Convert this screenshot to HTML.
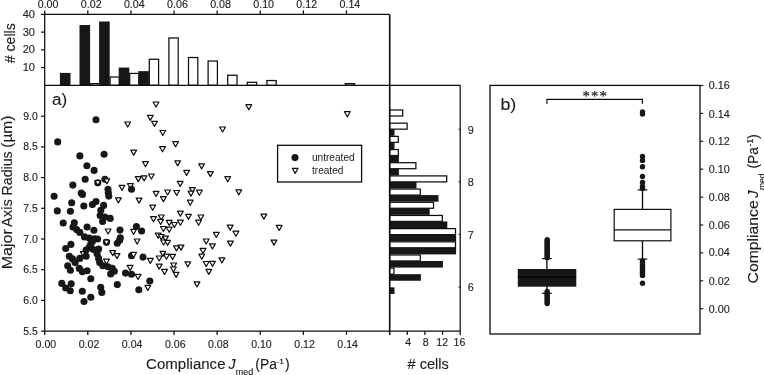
<!DOCTYPE html>
<html lang="en"><head><meta charset="utf-8"><title>Compliance vs major axis radius</title>
<style>html,body{margin:0;padding:0;background:#fff}svg{display:block}text{font-family:"Liberation Sans", sans-serif;fill:#1c1c1c;stroke:#1c1c1c;stroke-width:0.12px}</style></head><body>
<svg width="764" height="375" viewBox="0 0 764 375">
<rect width="764" height="375" fill="#fff"/>
<rect x="90.50" y="83.63" width="9.30" height="1.67" fill="#fff" stroke="#0d0d0d" stroke-width="1.25"/>
<rect x="110.10" y="76.99" width="9.30" height="8.31" fill="#fff" stroke="#0d0d0d" stroke-width="1.25"/>
<rect x="129.70" y="73.44" width="9.30" height="11.86" fill="#fff" stroke="#0d0d0d" stroke-width="1.25"/>
<rect x="149.30" y="59.26" width="9.30" height="26.04" fill="#fff" stroke="#0d0d0d" stroke-width="1.25"/>
<rect x="168.90" y="37.99" width="9.30" height="47.31" fill="#fff" stroke="#0d0d0d" stroke-width="1.25"/>
<rect x="188.50" y="57.49" width="9.30" height="27.81" fill="#fff" stroke="#0d0d0d" stroke-width="1.25"/>
<rect x="208.10" y="61.03" width="9.30" height="24.26" fill="#fff" stroke="#0d0d0d" stroke-width="1.25"/>
<rect x="227.70" y="75.21" width="9.30" height="10.08" fill="#fff" stroke="#0d0d0d" stroke-width="1.25"/>
<rect x="247.30" y="82.30" width="9.30" height="2.99" fill="#fff" stroke="#0d0d0d" stroke-width="1.25"/>
<rect x="266.90" y="80.53" width="9.30" height="4.77" fill="#fff" stroke="#0d0d0d" stroke-width="1.25"/>
<rect x="345.30" y="83.63" width="9.30" height="1.67" fill="#fff" stroke="#0d0d0d" stroke-width="1.25"/>
<rect x="59.90" y="72.89" width="10.60" height="12.41" fill="#171717"/>
<rect x="79.50" y="25.04" width="10.60" height="60.26" fill="#171717"/>
<rect x="99.10" y="21.49" width="10.60" height="63.81" fill="#171717"/>
<rect x="118.70" y="67.58" width="10.60" height="17.72" fill="#171717"/>
<rect x="138.30" y="71.12" width="10.60" height="14.18" fill="#171717"/>
<rect x="389.60" y="110.00" width="13.10" height="6.00" fill="#fff" stroke="#0d0d0d" stroke-width="1.25"/>
<rect x="389.60" y="123.18" width="17.50" height="6.00" fill="#fff" stroke="#0d0d0d" stroke-width="1.25"/>
<rect x="389.60" y="136.36" width="8.70" height="6.00" fill="#fff" stroke="#0d0d0d" stroke-width="1.25"/>
<rect x="389.60" y="149.54" width="8.70" height="6.00" fill="#fff" stroke="#0d0d0d" stroke-width="1.25"/>
<rect x="389.60" y="162.72" width="26.30" height="6.00" fill="#fff" stroke="#0d0d0d" stroke-width="1.25"/>
<rect x="389.60" y="175.90" width="57.10" height="6.00" fill="#fff" stroke="#0d0d0d" stroke-width="1.25"/>
<rect x="389.60" y="189.08" width="30.70" height="6.00" fill="#fff" stroke="#0d0d0d" stroke-width="1.25"/>
<rect x="389.60" y="202.26" width="43.90" height="6.00" fill="#fff" stroke="#0d0d0d" stroke-width="1.25"/>
<rect x="389.60" y="215.44" width="52.70" height="6.00" fill="#fff" stroke="#0d0d0d" stroke-width="1.25"/>
<rect x="389.60" y="228.62" width="65.90" height="6.00" fill="#fff" stroke="#0d0d0d" stroke-width="1.25"/>
<rect x="389.60" y="241.80" width="65.90" height="6.00" fill="#fff" stroke="#0d0d0d" stroke-width="1.25"/>
<rect x="389.60" y="254.98" width="30.70" height="6.00" fill="#fff" stroke="#0d0d0d" stroke-width="1.25"/>
<rect x="389.60" y="268.16" width="4.30" height="6.00" fill="#fff" stroke="#0d0d0d" stroke-width="1.25"/>
<rect x="389.60" y="129.18" width="4.90" height="6.60" fill="#171717"/>
<rect x="389.60" y="142.36" width="4.90" height="6.60" fill="#171717"/>
<rect x="389.60" y="155.54" width="9.30" height="6.60" fill="#171717"/>
<rect x="389.60" y="168.72" width="9.30" height="6.60" fill="#171717"/>
<rect x="389.60" y="181.90" width="26.90" height="6.60" fill="#171717"/>
<rect x="389.60" y="195.08" width="48.90" height="6.60" fill="#171717"/>
<rect x="389.60" y="208.26" width="40.10" height="6.60" fill="#171717"/>
<rect x="389.60" y="221.44" width="57.70" height="6.60" fill="#171717"/>
<rect x="389.60" y="234.62" width="66.50" height="6.60" fill="#171717"/>
<rect x="389.60" y="247.80" width="66.50" height="6.60" fill="#171717"/>
<rect x="389.60" y="260.98" width="53.30" height="6.60" fill="#171717"/>
<rect x="389.60" y="274.16" width="31.30" height="6.60" fill="#171717"/>
<rect x="389.60" y="287.34" width="4.90" height="6.60" fill="#171717"/>
<line x1="41.10" y1="14.40" x2="389.60" y2="14.40" stroke="#0d0d0d" stroke-width="1.25"/>
<line x1="44.70" y1="10.40" x2="44.70" y2="335.00" stroke="#0d0d0d" stroke-width="1.25"/>
<line x1="44.70" y1="85.30" x2="460.20" y2="85.30" stroke="#0d0d0d" stroke-width="1.25"/>
<line x1="389.70" y1="14.40" x2="389.70" y2="335.00" stroke="#0d0d0d" stroke-width="1.60"/>
<line x1="41.10" y1="331.00" x2="460.20" y2="331.00" stroke="#0d0d0d" stroke-width="1.25"/>
<line x1="460.20" y1="85.30" x2="460.20" y2="335.00" stroke="#0d0d0d" stroke-width="1.25"/>
<text x="48.10" y="7.60" font-size="10.00" text-anchor="middle" textLength="20.8" lengthAdjust="spacingAndGlyphs">0.00</text>
<text x="45.90" y="347.80" font-size="10.00" text-anchor="middle" textLength="20.6" lengthAdjust="spacingAndGlyphs">0.00</text>
<line x1="87.81" y1="10.40" x2="87.81" y2="14.40" stroke="#0d0d0d" stroke-width="1.25"/>
<line x1="87.81" y1="331.00" x2="87.81" y2="335.00" stroke="#0d0d0d" stroke-width="1.25"/>
<text x="91.21" y="7.60" font-size="10.00" text-anchor="middle" textLength="20.8" lengthAdjust="spacingAndGlyphs">0.02</text>
<text x="89.01" y="347.80" font-size="10.00" text-anchor="middle" textLength="20.6" lengthAdjust="spacingAndGlyphs">0.02</text>
<line x1="130.93" y1="10.40" x2="130.93" y2="14.40" stroke="#0d0d0d" stroke-width="1.25"/>
<line x1="130.93" y1="331.00" x2="130.93" y2="335.00" stroke="#0d0d0d" stroke-width="1.25"/>
<text x="134.33" y="7.60" font-size="10.00" text-anchor="middle" textLength="20.8" lengthAdjust="spacingAndGlyphs">0.04</text>
<text x="132.12" y="347.80" font-size="10.00" text-anchor="middle" textLength="20.6" lengthAdjust="spacingAndGlyphs">0.04</text>
<line x1="174.04" y1="10.40" x2="174.04" y2="14.40" stroke="#0d0d0d" stroke-width="1.25"/>
<line x1="174.04" y1="331.00" x2="174.04" y2="335.00" stroke="#0d0d0d" stroke-width="1.25"/>
<text x="177.44" y="7.60" font-size="10.00" text-anchor="middle" textLength="20.8" lengthAdjust="spacingAndGlyphs">0.06</text>
<text x="175.24" y="347.80" font-size="10.00" text-anchor="middle" textLength="20.6" lengthAdjust="spacingAndGlyphs">0.06</text>
<line x1="217.15" y1="10.40" x2="217.15" y2="14.40" stroke="#0d0d0d" stroke-width="1.25"/>
<line x1="217.15" y1="331.00" x2="217.15" y2="335.00" stroke="#0d0d0d" stroke-width="1.25"/>
<text x="220.55" y="7.60" font-size="10.00" text-anchor="middle" textLength="20.8" lengthAdjust="spacingAndGlyphs">0.08</text>
<text x="218.35" y="347.80" font-size="10.00" text-anchor="middle" textLength="20.6" lengthAdjust="spacingAndGlyphs">0.08</text>
<line x1="260.26" y1="10.40" x2="260.26" y2="14.40" stroke="#0d0d0d" stroke-width="1.25"/>
<line x1="260.26" y1="331.00" x2="260.26" y2="335.00" stroke="#0d0d0d" stroke-width="1.25"/>
<text x="263.66" y="7.60" font-size="10.00" text-anchor="middle" textLength="20.8" lengthAdjust="spacingAndGlyphs">0.10</text>
<text x="261.46" y="347.80" font-size="10.00" text-anchor="middle" textLength="20.6" lengthAdjust="spacingAndGlyphs">0.10</text>
<line x1="303.38" y1="10.40" x2="303.38" y2="14.40" stroke="#0d0d0d" stroke-width="1.25"/>
<line x1="303.38" y1="331.00" x2="303.38" y2="335.00" stroke="#0d0d0d" stroke-width="1.25"/>
<text x="306.77" y="7.60" font-size="10.00" text-anchor="middle" textLength="20.8" lengthAdjust="spacingAndGlyphs">0.12</text>
<text x="304.57" y="347.80" font-size="10.00" text-anchor="middle" textLength="20.6" lengthAdjust="spacingAndGlyphs">0.12</text>
<line x1="346.49" y1="10.40" x2="346.49" y2="14.40" stroke="#0d0d0d" stroke-width="1.25"/>
<line x1="346.49" y1="331.00" x2="346.49" y2="335.00" stroke="#0d0d0d" stroke-width="1.25"/>
<text x="349.89" y="7.60" font-size="10.00" text-anchor="middle" textLength="20.8" lengthAdjust="spacingAndGlyphs">0.14</text>
<text x="347.69" y="347.80" font-size="10.00" text-anchor="middle" textLength="20.6" lengthAdjust="spacingAndGlyphs">0.14</text>
<text x="35.00" y="17.90" font-size="10.00" text-anchor="end" textLength="12.3" lengthAdjust="spacingAndGlyphs">40</text>
<line x1="41.10" y1="32.12" x2="44.70" y2="32.12" stroke="#0d0d0d" stroke-width="1.25"/>
<text x="35.00" y="35.62" font-size="10.00" text-anchor="end" textLength="12.3" lengthAdjust="spacingAndGlyphs">30</text>
<line x1="41.10" y1="49.85" x2="44.70" y2="49.85" stroke="#0d0d0d" stroke-width="1.25"/>
<text x="35.00" y="53.35" font-size="10.00" text-anchor="end" textLength="12.3" lengthAdjust="spacingAndGlyphs">20</text>
<line x1="41.10" y1="67.58" x2="44.70" y2="67.58" stroke="#0d0d0d" stroke-width="1.25"/>
<text x="35.00" y="71.08" font-size="10.00" text-anchor="end" textLength="12.3" lengthAdjust="spacingAndGlyphs">10</text>
<line x1="41.10" y1="116.20" x2="44.70" y2="116.20" stroke="#0d0d0d" stroke-width="1.25"/>
<text x="37.80" y="119.70" font-size="10.00" text-anchor="end" textLength="14.5" lengthAdjust="spacingAndGlyphs">9.0</text>
<line x1="41.10" y1="146.90" x2="44.70" y2="146.90" stroke="#0d0d0d" stroke-width="1.25"/>
<text x="37.80" y="150.40" font-size="10.00" text-anchor="end" textLength="14.5" lengthAdjust="spacingAndGlyphs">8.5</text>
<line x1="41.10" y1="177.60" x2="44.70" y2="177.60" stroke="#0d0d0d" stroke-width="1.25"/>
<text x="37.80" y="181.10" font-size="10.00" text-anchor="end" textLength="14.5" lengthAdjust="spacingAndGlyphs">8.0</text>
<line x1="41.10" y1="208.30" x2="44.70" y2="208.30" stroke="#0d0d0d" stroke-width="1.25"/>
<text x="37.80" y="211.80" font-size="10.00" text-anchor="end" textLength="14.5" lengthAdjust="spacingAndGlyphs">7.5</text>
<line x1="41.10" y1="239.00" x2="44.70" y2="239.00" stroke="#0d0d0d" stroke-width="1.25"/>
<text x="37.80" y="242.50" font-size="10.00" text-anchor="end" textLength="14.5" lengthAdjust="spacingAndGlyphs">7.0</text>
<line x1="41.10" y1="269.70" x2="44.70" y2="269.70" stroke="#0d0d0d" stroke-width="1.25"/>
<text x="37.80" y="273.20" font-size="10.00" text-anchor="end" textLength="14.5" lengthAdjust="spacingAndGlyphs">6.5</text>
<line x1="41.10" y1="300.40" x2="44.70" y2="300.40" stroke="#0d0d0d" stroke-width="1.25"/>
<text x="37.80" y="303.90" font-size="10.00" text-anchor="end" textLength="14.5" lengthAdjust="spacingAndGlyphs">6.0</text>
<text x="37.80" y="334.60" font-size="10.00" text-anchor="end" textLength="14.5" lengthAdjust="spacingAndGlyphs">5.5</text>
<line x1="407.25" y1="331.00" x2="407.25" y2="335.00" stroke="#0d0d0d" stroke-width="1.25"/>
<text x="408.10" y="346.10" font-size="10.00" text-anchor="middle" textLength="5.9" lengthAdjust="spacingAndGlyphs">4</text>
<line x1="424.90" y1="331.00" x2="424.90" y2="335.00" stroke="#0d0d0d" stroke-width="1.25"/>
<text x="425.70" y="346.10" font-size="10.00" text-anchor="middle" textLength="5.9" lengthAdjust="spacingAndGlyphs">8</text>
<line x1="442.55" y1="331.00" x2="442.55" y2="335.00" stroke="#0d0d0d" stroke-width="1.25"/>
<text x="442.20" y="346.10" font-size="10.00" text-anchor="middle" textLength="11.7" lengthAdjust="spacingAndGlyphs">12</text>
<text x="459.40" y="346.10" font-size="10.00" text-anchor="middle" textLength="11.7" lengthAdjust="spacingAndGlyphs">16</text>
<line x1="458.60" y1="129.20" x2="460.20" y2="129.20" stroke="#0d0d0d" stroke-width="1.00"/>
<text x="467.70" y="133.80" font-size="10.00" text-anchor="start" textLength="6.0" lengthAdjust="spacingAndGlyphs">9</text>
<line x1="458.60" y1="181.80" x2="460.20" y2="181.80" stroke="#0d0d0d" stroke-width="1.00"/>
<text x="467.70" y="186.10" font-size="10.00" text-anchor="start" textLength="6.0" lengthAdjust="spacingAndGlyphs">8</text>
<line x1="458.60" y1="234.40" x2="460.20" y2="234.40" stroke="#0d0d0d" stroke-width="1.00"/>
<text x="467.70" y="238.60" font-size="10.00" text-anchor="start" textLength="6.0" lengthAdjust="spacingAndGlyphs">7</text>
<line x1="458.60" y1="287.00" x2="460.20" y2="287.00" stroke="#0d0d0d" stroke-width="1.00"/>
<text x="467.70" y="291.40" font-size="10.00" text-anchor="start" textLength="6.0" lengthAdjust="spacingAndGlyphs">6</text>
<circle cx="96.0" cy="119.7" r="3.55" fill="#171717"/>
<circle cx="57.7" cy="141.9" r="3.55" fill="#171717"/>
<circle cx="79.9" cy="155.9" r="3.55" fill="#171717"/>
<circle cx="104.1" cy="154.2" r="3.55" fill="#171717"/>
<circle cx="86.9" cy="165.8" r="3.55" fill="#171717"/>
<circle cx="94.1" cy="170.4" r="3.55" fill="#171717"/>
<circle cx="85.2" cy="179.2" r="3.55" fill="#171717"/>
<circle cx="72.8" cy="185.1" r="3.55" fill="#171717"/>
<circle cx="97.8" cy="182.7" r="3.55" fill="#171717"/>
<circle cx="104.9" cy="179.3" r="3.55" fill="#171717"/>
<circle cx="81.2" cy="193.0" r="3.55" fill="#171717"/>
<circle cx="82.5" cy="194.4" r="3.55" fill="#171717"/>
<circle cx="54.1" cy="196.3" r="3.55" fill="#171717"/>
<circle cx="108.0" cy="189.3" r="3.55" fill="#171717"/>
<circle cx="108.3" cy="192.7" r="3.55" fill="#171717"/>
<circle cx="108.8" cy="196.1" r="3.55" fill="#171717"/>
<circle cx="71.7" cy="202.7" r="3.55" fill="#171717"/>
<circle cx="83.8" cy="206.0" r="3.55" fill="#171717"/>
<circle cx="96.0" cy="201.5" r="3.55" fill="#171717"/>
<circle cx="92.4" cy="204.5" r="3.55" fill="#171717"/>
<circle cx="103.6" cy="205.4" r="3.55" fill="#171717"/>
<circle cx="100.8" cy="210.3" r="3.55" fill="#171717"/>
<circle cx="57.3" cy="210.9" r="3.55" fill="#171717"/>
<circle cx="70.4" cy="211.3" r="3.55" fill="#171717"/>
<circle cx="100.2" cy="215.5" r="3.55" fill="#171717"/>
<circle cx="104.9" cy="217.0" r="3.55" fill="#171717"/>
<circle cx="110.2" cy="218.4" r="3.55" fill="#171717"/>
<circle cx="102.6" cy="221.5" r="3.55" fill="#171717"/>
<circle cx="63.2" cy="223.0" r="3.55" fill="#171717"/>
<circle cx="74.3" cy="222.8" r="3.55" fill="#171717"/>
<circle cx="73.0" cy="227.0" r="3.55" fill="#171717"/>
<circle cx="76.6" cy="229.6" r="3.55" fill="#171717"/>
<circle cx="79.8" cy="232.4" r="3.55" fill="#171717"/>
<circle cx="87.1" cy="227.0" r="3.55" fill="#171717"/>
<circle cx="93.9" cy="230.3" r="3.55" fill="#171717"/>
<circle cx="84.5" cy="236.9" r="3.55" fill="#171717"/>
<circle cx="89.2" cy="238.0" r="3.55" fill="#171717"/>
<circle cx="94.5" cy="238.7" r="3.55" fill="#171717"/>
<circle cx="97.6" cy="239.0" r="3.55" fill="#171717"/>
<circle cx="92.4" cy="241.6" r="3.55" fill="#171717"/>
<circle cx="90.8" cy="243.8" r="3.55" fill="#171717"/>
<circle cx="70.9" cy="244.4" r="3.55" fill="#171717"/>
<circle cx="120.0" cy="230.1" r="3.55" fill="#171717"/>
<circle cx="120.3" cy="237.7" r="3.55" fill="#171717"/>
<circle cx="117.3" cy="243.2" r="3.55" fill="#171717"/>
<circle cx="119.6" cy="240.2" r="3.55" fill="#171717"/>
<circle cx="106.5" cy="242.3" r="3.55" fill="#171717"/>
<circle cx="136.4" cy="226.5" r="3.55" fill="#171717"/>
<circle cx="141.6" cy="231.0" r="3.55" fill="#171717"/>
<circle cx="65.7" cy="248.5" r="3.55" fill="#171717"/>
<circle cx="89.2" cy="247.4" r="3.55" fill="#171717"/>
<circle cx="93.4" cy="249.5" r="3.55" fill="#171717"/>
<circle cx="98.6" cy="249.0" r="3.55" fill="#171717"/>
<circle cx="97.1" cy="253.7" r="3.55" fill="#171717"/>
<circle cx="79.8" cy="258.4" r="3.55" fill="#171717"/>
<circle cx="69.3" cy="256.3" r="3.55" fill="#171717"/>
<circle cx="72.5" cy="258.9" r="3.55" fill="#171717"/>
<circle cx="75.1" cy="262.6" r="3.55" fill="#171717"/>
<circle cx="67.7" cy="265.7" r="3.55" fill="#171717"/>
<circle cx="70.4" cy="270.2" r="3.55" fill="#171717"/>
<circle cx="79.3" cy="268.4" r="3.55" fill="#171717"/>
<circle cx="82.4" cy="271.8" r="3.55" fill="#171717"/>
<circle cx="87.1" cy="270.8" r="3.55" fill="#171717"/>
<circle cx="98.6" cy="258.4" r="3.55" fill="#171717"/>
<circle cx="99.7" cy="262.6" r="3.55" fill="#171717"/>
<circle cx="102.8" cy="265.7" r="3.55" fill="#171717"/>
<circle cx="108.1" cy="266.8" r="3.55" fill="#171717"/>
<circle cx="112.3" cy="268.4" r="3.55" fill="#171717"/>
<circle cx="114.3" cy="271.3" r="3.55" fill="#171717"/>
<circle cx="110.7" cy="273.9" r="3.55" fill="#171717"/>
<circle cx="131.5" cy="255.8" r="3.55" fill="#171717"/>
<circle cx="143.0" cy="257.1" r="3.55" fill="#171717"/>
<circle cx="125.5" cy="273.1" r="3.55" fill="#171717"/>
<circle cx="131.5" cy="274.2" r="3.55" fill="#171717"/>
<circle cx="90.8" cy="278.8" r="3.55" fill="#171717"/>
<circle cx="61.8" cy="283.4" r="3.55" fill="#171717"/>
<circle cx="71.2" cy="283.8" r="3.55" fill="#171717"/>
<circle cx="65.7" cy="288.0" r="3.55" fill="#171717"/>
<circle cx="70.3" cy="290.8" r="3.55" fill="#171717"/>
<circle cx="82.3" cy="291.3" r="3.55" fill="#171717"/>
<circle cx="100.7" cy="287.2" r="3.55" fill="#171717"/>
<circle cx="101.8" cy="292.4" r="3.55" fill="#171717"/>
<circle cx="90.8" cy="297.2" r="3.55" fill="#171717"/>
<circle cx="84.0" cy="301.5" r="3.55" fill="#171717"/>
<circle cx="117.3" cy="284.6" r="3.55" fill="#171717"/>
<circle cx="149.8" cy="281.0" r="3.55" fill="#171717"/>
<circle cx="138.8" cy="289.8" r="3.55" fill="#171717"/>
<path d="M124.80 122.00H130.60L127.70 127.05Z" fill="#fff" stroke="#0d0d0d" stroke-width="1.2" stroke-linejoin="round"/>
<path d="M153.10 102.00H158.90L156.00 107.05Z" fill="#fff" stroke="#0d0d0d" stroke-width="1.2" stroke-linejoin="round"/>
<path d="M147.40 115.30H153.20L150.30 120.35Z" fill="#fff" stroke="#0d0d0d" stroke-width="1.2" stroke-linejoin="round"/>
<path d="M151.60 121.30H157.40L154.50 126.35Z" fill="#fff" stroke="#0d0d0d" stroke-width="1.2" stroke-linejoin="round"/>
<path d="M159.90 130.50H165.70L162.80 135.55Z" fill="#fff" stroke="#0d0d0d" stroke-width="1.2" stroke-linejoin="round"/>
<path d="M219.70 127.00H225.50L222.60 132.05Z" fill="#fff" stroke="#0d0d0d" stroke-width="1.2" stroke-linejoin="round"/>
<path d="M245.90 104.70H251.70L248.80 109.75Z" fill="#fff" stroke="#0d0d0d" stroke-width="1.2" stroke-linejoin="round"/>
<path d="M344.40 111.70H350.20L347.30 116.75Z" fill="#fff" stroke="#0d0d0d" stroke-width="1.2" stroke-linejoin="round"/>
<path d="M130.80 150.10H136.60L133.70 155.15Z" fill="#fff" stroke="#0d0d0d" stroke-width="1.2" stroke-linejoin="round"/>
<path d="M172.70 141.70H178.50L175.60 146.75Z" fill="#fff" stroke="#0d0d0d" stroke-width="1.2" stroke-linejoin="round"/>
<path d="M159.60 146.70H165.40L162.50 151.75Z" fill="#fff" stroke="#0d0d0d" stroke-width="1.2" stroke-linejoin="round"/>
<path d="M142.60 161.70H148.40L145.50 166.75Z" fill="#fff" stroke="#0d0d0d" stroke-width="1.2" stroke-linejoin="round"/>
<path d="M174.80 160.80H180.60L177.70 165.85Z" fill="#fff" stroke="#0d0d0d" stroke-width="1.2" stroke-linejoin="round"/>
<path d="M198.70 163.80H204.50L201.60 168.85Z" fill="#fff" stroke="#0d0d0d" stroke-width="1.2" stroke-linejoin="round"/>
<path d="M183.70 170.40H189.50L186.60 175.45Z" fill="#fff" stroke="#0d0d0d" stroke-width="1.2" stroke-linejoin="round"/>
<path d="M207.50 171.60H213.30L210.40 176.65Z" fill="#fff" stroke="#0d0d0d" stroke-width="1.2" stroke-linejoin="round"/>
<path d="M148.50 174.00H154.30L151.40 179.05Z" fill="#fff" stroke="#0d0d0d" stroke-width="1.2" stroke-linejoin="round"/>
<path d="M141.20 175.80H147.00L144.10 180.85Z" fill="#fff" stroke="#0d0d0d" stroke-width="1.2" stroke-linejoin="round"/>
<path d="M224.80 176.70H230.60L227.70 181.75Z" fill="#fff" stroke="#0d0d0d" stroke-width="1.2" stroke-linejoin="round"/>
<path d="M177.30 181.40H183.10L180.20 186.45Z" fill="#fff" stroke="#0d0d0d" stroke-width="1.2" stroke-linejoin="round"/>
<path d="M135.40 176.60H141.20L138.30 181.65Z" fill="#fff" stroke="#0d0d0d" stroke-width="1.2" stroke-linejoin="round"/>
<path d="M103.90 178.80H109.70L106.80 183.85Z" fill="#fff" stroke="#0d0d0d" stroke-width="1.2" stroke-linejoin="round"/>
<path d="M94.90 180.60H100.70L97.80 185.65Z" fill="#fff" stroke="#0d0d0d" stroke-width="1.2" stroke-linejoin="round"/>
<path d="M115.50 197.80H121.30L118.40 202.85Z" fill="#fff" stroke="#0d0d0d" stroke-width="1.2" stroke-linejoin="round"/>
<path d="M119.10 185.30H124.90L122.00 190.35Z" fill="#fff" stroke="#0d0d0d" stroke-width="1.2" stroke-linejoin="round"/>
<path d="M127.50 183.70H133.30L130.40 188.75Z" fill="#fff" stroke="#0d0d0d" stroke-width="1.2" stroke-linejoin="round"/>
<path d="M153.20 191.40H159.00L156.10 196.45Z" fill="#fff" stroke="#0d0d0d" stroke-width="1.2" stroke-linejoin="round"/>
<path d="M164.70 190.00H170.50L167.60 195.05Z" fill="#fff" stroke="#0d0d0d" stroke-width="1.2" stroke-linejoin="round"/>
<path d="M173.80 190.50H179.60L176.70 195.55Z" fill="#fff" stroke="#0d0d0d" stroke-width="1.2" stroke-linejoin="round"/>
<path d="M160.50 196.60H166.30L163.40 201.65Z" fill="#fff" stroke="#0d0d0d" stroke-width="1.2" stroke-linejoin="round"/>
<path d="M136.20 198.10H142.00L139.10 203.15Z" fill="#fff" stroke="#0d0d0d" stroke-width="1.2" stroke-linejoin="round"/>
<path d="M149.80 205.20H155.60L152.70 210.25Z" fill="#fff" stroke="#0d0d0d" stroke-width="1.2" stroke-linejoin="round"/>
<path d="M189.50 187.60H195.30L192.40 192.65Z" fill="#fff" stroke="#0d0d0d" stroke-width="1.2" stroke-linejoin="round"/>
<path d="M188.10 191.10H193.90L191.00 196.15Z" fill="#fff" stroke="#0d0d0d" stroke-width="1.2" stroke-linejoin="round"/>
<path d="M196.50 190.20H202.30L199.40 195.25Z" fill="#fff" stroke="#0d0d0d" stroke-width="1.2" stroke-linejoin="round"/>
<path d="M235.90 189.80H241.70L238.80 194.85Z" fill="#fff" stroke="#0d0d0d" stroke-width="1.2" stroke-linejoin="round"/>
<path d="M187.30 200.20H193.10L190.20 205.25Z" fill="#fff" stroke="#0d0d0d" stroke-width="1.2" stroke-linejoin="round"/>
<path d="M261.00 214.10H266.80L263.90 219.15Z" fill="#fff" stroke="#0d0d0d" stroke-width="1.2" stroke-linejoin="round"/>
<path d="M276.30 225.40H282.10L279.20 230.45Z" fill="#fff" stroke="#0d0d0d" stroke-width="1.2" stroke-linejoin="round"/>
<path d="M271.10 240.10H276.90L274.00 245.15Z" fill="#fff" stroke="#0d0d0d" stroke-width="1.2" stroke-linejoin="round"/>
<path d="M233.00 231.20H238.80L235.90 236.25Z" fill="#fff" stroke="#0d0d0d" stroke-width="1.2" stroke-linejoin="round"/>
<path d="M227.30 225.10H233.10L230.20 230.15Z" fill="#fff" stroke="#0d0d0d" stroke-width="1.2" stroke-linejoin="round"/>
<path d="M227.50 241.10H233.30L230.40 246.15Z" fill="#fff" stroke="#0d0d0d" stroke-width="1.2" stroke-linejoin="round"/>
<path d="M105.20 229.00H111.00L108.10 234.05Z" fill="#fff" stroke="#0d0d0d" stroke-width="1.2" stroke-linejoin="round"/>
<path d="M103.60 240.10H109.40L106.50 245.15Z" fill="#fff" stroke="#0d0d0d" stroke-width="1.2" stroke-linejoin="round"/>
<path d="M177.50 211.20H183.30L180.40 216.25Z" fill="#fff" stroke="#0d0d0d" stroke-width="1.2" stroke-linejoin="round"/>
<path d="M185.60 214.30H191.40L188.50 219.35Z" fill="#fff" stroke="#0d0d0d" stroke-width="1.2" stroke-linejoin="round"/>
<path d="M150.60 216.70H156.40L153.50 221.75Z" fill="#fff" stroke="#0d0d0d" stroke-width="1.2" stroke-linejoin="round"/>
<path d="M158.40 215.00H164.20L161.30 220.05Z" fill="#fff" stroke="#0d0d0d" stroke-width="1.2" stroke-linejoin="round"/>
<path d="M157.70 219.40H163.50L160.60 224.45Z" fill="#fff" stroke="#0d0d0d" stroke-width="1.2" stroke-linejoin="round"/>
<path d="M166.30 220.40H172.10L169.20 225.45Z" fill="#fff" stroke="#0d0d0d" stroke-width="1.2" stroke-linejoin="round"/>
<path d="M171.50 222.50H177.30L174.40 227.55Z" fill="#fff" stroke="#0d0d0d" stroke-width="1.2" stroke-linejoin="round"/>
<path d="M177.50 220.20H183.30L180.40 225.25Z" fill="#fff" stroke="#0d0d0d" stroke-width="1.2" stroke-linejoin="round"/>
<path d="M160.50 226.50H166.30L163.40 231.55Z" fill="#fff" stroke="#0d0d0d" stroke-width="1.2" stroke-linejoin="round"/>
<path d="M166.30 227.20H172.10L169.20 232.25Z" fill="#fff" stroke="#0d0d0d" stroke-width="1.2" stroke-linejoin="round"/>
<path d="M130.70 229.30H136.50L133.60 234.35Z" fill="#fff" stroke="#0d0d0d" stroke-width="1.2" stroke-linejoin="round"/>
<path d="M134.20 239.00H140.00L137.10 244.05Z" fill="#fff" stroke="#0d0d0d" stroke-width="1.2" stroke-linejoin="round"/>
<path d="M155.30 233.20H161.10L158.20 238.25Z" fill="#fff" stroke="#0d0d0d" stroke-width="1.2" stroke-linejoin="round"/>
<path d="M158.40 234.50H164.20L161.30 239.55Z" fill="#fff" stroke="#0d0d0d" stroke-width="1.2" stroke-linejoin="round"/>
<path d="M162.60 236.10H168.40L165.50 241.15Z" fill="#fff" stroke="#0d0d0d" stroke-width="1.2" stroke-linejoin="round"/>
<path d="M160.70 240.00H166.50L163.60 245.05Z" fill="#fff" stroke="#0d0d0d" stroke-width="1.2" stroke-linejoin="round"/>
<path d="M164.70 240.30H170.50L167.60 245.35Z" fill="#fff" stroke="#0d0d0d" stroke-width="1.2" stroke-linejoin="round"/>
<path d="M198.00 215.00H203.80L200.90 220.05Z" fill="#fff" stroke="#0d0d0d" stroke-width="1.2" stroke-linejoin="round"/>
<path d="M195.70 220.20H201.50L198.60 225.25Z" fill="#fff" stroke="#0d0d0d" stroke-width="1.2" stroke-linejoin="round"/>
<path d="M213.40 232.40H219.20L216.30 237.45Z" fill="#fff" stroke="#0d0d0d" stroke-width="1.2" stroke-linejoin="round"/>
<path d="M203.30 239.00H209.10L206.20 244.05Z" fill="#fff" stroke="#0d0d0d" stroke-width="1.2" stroke-linejoin="round"/>
<path d="M209.50 243.90H215.30L212.40 248.95Z" fill="#fff" stroke="#0d0d0d" stroke-width="1.2" stroke-linejoin="round"/>
<path d="M80.40 251.60H86.20L83.30 256.65Z" fill="#fff" stroke="#0d0d0d" stroke-width="1.2" stroke-linejoin="round"/>
<path d="M109.80 250.60H115.60L112.70 255.65Z" fill="#fff" stroke="#0d0d0d" stroke-width="1.2" stroke-linejoin="round"/>
<path d="M114.10 253.60H119.90L117.00 258.65Z" fill="#fff" stroke="#0d0d0d" stroke-width="1.2" stroke-linejoin="round"/>
<path d="M103.60 259.20H109.40L106.50 264.25Z" fill="#fff" stroke="#0d0d0d" stroke-width="1.2" stroke-linejoin="round"/>
<path d="M130.70 252.40H136.50L133.60 257.45Z" fill="#fff" stroke="#0d0d0d" stroke-width="1.2" stroke-linejoin="round"/>
<path d="M173.60 245.90H179.40L176.50 250.95Z" fill="#fff" stroke="#0d0d0d" stroke-width="1.2" stroke-linejoin="round"/>
<path d="M178.10 245.10H183.90L181.00 250.15Z" fill="#fff" stroke="#0d0d0d" stroke-width="1.2" stroke-linejoin="round"/>
<path d="M160.00 251.30H165.80L162.90 256.35Z" fill="#fff" stroke="#0d0d0d" stroke-width="1.2" stroke-linejoin="round"/>
<path d="M156.30 256.00H162.10L159.20 261.05Z" fill="#fff" stroke="#0d0d0d" stroke-width="1.2" stroke-linejoin="round"/>
<path d="M163.60 254.20H169.40L166.50 259.25Z" fill="#fff" stroke="#0d0d0d" stroke-width="1.2" stroke-linejoin="round"/>
<path d="M169.70 254.40H175.50L172.60 259.45Z" fill="#fff" stroke="#0d0d0d" stroke-width="1.2" stroke-linejoin="round"/>
<path d="M147.40 258.40H153.20L150.30 263.45Z" fill="#fff" stroke="#0d0d0d" stroke-width="1.2" stroke-linejoin="round"/>
<path d="M184.90 261.80H190.70L187.80 266.85Z" fill="#fff" stroke="#0d0d0d" stroke-width="1.2" stroke-linejoin="round"/>
<path d="M156.30 264.10H162.10L159.20 269.15Z" fill="#fff" stroke="#0d0d0d" stroke-width="1.2" stroke-linejoin="round"/>
<path d="M170.80 263.00H176.60L173.70 268.05Z" fill="#fff" stroke="#0d0d0d" stroke-width="1.2" stroke-linejoin="round"/>
<path d="M170.50 267.00H176.30L173.40 272.05Z" fill="#fff" stroke="#0d0d0d" stroke-width="1.2" stroke-linejoin="round"/>
<path d="M173.20 272.30H179.00L176.10 277.35Z" fill="#fff" stroke="#0d0d0d" stroke-width="1.2" stroke-linejoin="round"/>
<path d="M161.60 269.40H167.40L164.50 274.45Z" fill="#fff" stroke="#0d0d0d" stroke-width="1.2" stroke-linejoin="round"/>
<path d="M127.20 265.40H133.00L130.10 270.45Z" fill="#fff" stroke="#0d0d0d" stroke-width="1.2" stroke-linejoin="round"/>
<path d="M135.20 274.40H141.00L138.10 279.45Z" fill="#fff" stroke="#0d0d0d" stroke-width="1.2" stroke-linejoin="round"/>
<path d="M200.10 248.40H205.90L203.00 253.45Z" fill="#fff" stroke="#0d0d0d" stroke-width="1.2" stroke-linejoin="round"/>
<path d="M198.90 254.20H204.70L201.80 259.25Z" fill="#fff" stroke="#0d0d0d" stroke-width="1.2" stroke-linejoin="round"/>
<path d="M219.00 257.90H224.80L221.90 262.95Z" fill="#fff" stroke="#0d0d0d" stroke-width="1.2" stroke-linejoin="round"/>
<path d="M203.30 261.50H209.10L206.20 266.55Z" fill="#fff" stroke="#0d0d0d" stroke-width="1.2" stroke-linejoin="round"/>
<path d="M209.60 261.30H215.40L212.50 266.35Z" fill="#fff" stroke="#0d0d0d" stroke-width="1.2" stroke-linejoin="round"/>
<path d="M205.90 269.30H211.70L208.80 274.35Z" fill="#fff" stroke="#0d0d0d" stroke-width="1.2" stroke-linejoin="round"/>
<path d="M144.90 285.40H150.70L147.80 290.45Z" fill="#fff" stroke="#0d0d0d" stroke-width="1.2" stroke-linejoin="round"/>
<path d="M194.10 281.90H199.90L197.00 286.95Z" fill="#fff" stroke="#0d0d0d" stroke-width="1.2" stroke-linejoin="round"/>
<circle cx="131.5" cy="189.2" r="3.55" fill="#171717"/>
<circle cx="86.1" cy="250.0" r="3.55" fill="#171717"/>
<circle cx="86.1" cy="256.3" r="3.55" fill="#171717"/>
<rect x="277.6" y="145.3" width="84.0" height="36.7" fill="#fff" stroke="#0d0d0d" stroke-width="1.3"/>
<circle cx="295.0" cy="157.6" r="3.55" fill="#171717"/>
<path d="M292.30 168.30H298.10L295.20 173.35Z" fill="#fff" stroke="#0d0d0d" stroke-width="1.2" stroke-linejoin="round"/>
<text x="312.00" y="160.70" font-size="10.00" text-anchor="start" textLength="42.6" lengthAdjust="spacingAndGlyphs" style="stroke:none">untreated</text>
<text x="312.00" y="173.50" font-size="10.00" text-anchor="start" textLength="31.4" lengthAdjust="spacingAndGlyphs" style="stroke:none">treated</text>
<text x="52.00" y="105.10" font-size="15.80" text-anchor="start" textLength="15.2" lengthAdjust="spacingAndGlyphs" style="stroke-width:0.1px">a)</text>
<text x="500.40" y="109.80" font-size="16.00" text-anchor="start" textLength="15.8" lengthAdjust="spacingAndGlyphs" style="stroke-width:0.1px">b)</text>
<g transform="translate(12.2,0) rotate(-90)">
<text x="-269.30" y="0" font-size="14.5" textLength="40.2" lengthAdjust="spacingAndGlyphs">Major</text>
<text x="-226.90" y="0" font-size="14.5" textLength="27.6" lengthAdjust="spacingAndGlyphs">Axis</text>
<text x="-195.50" y="0" font-size="14.5" textLength="44.2" lengthAdjust="spacingAndGlyphs">Radius</text>
<text x="-147.70" y="0" font-size="14.5" textLength="32.0" lengthAdjust="spacingAndGlyphs">(µm)</text>
</g>
<text transform="translate(14.6,63.2) rotate(-90)" font-size="14.5" textLength="40.0" lengthAdjust="spacingAndGlyphs"># cells</text>
<text x="407.60" y="368.60" font-size="14.50" text-anchor="start" textLength="41.2" lengthAdjust="spacingAndGlyphs"># cells</text>
<g transform="translate(146.9,368.5)">
<text x="-0.80" y="0.00" font-size="14.00" textLength="79.4" lengthAdjust="spacingAndGlyphs">Compliance</text>
<text x="81.60" y="0.00" font-size="14.00" font-style="italic">J</text>
<text x="88.90" y="6.10" font-size="9.00" textLength="17.4" lengthAdjust="spacingAndGlyphs">med</text>
<text x="108.40" y="0.00" font-size="14.00" textLength="21.6" lengthAdjust="spacingAndGlyphs">(Pa</text>
<text x="129.00" y="-5.00" font-size="8.00" textLength="8.2" lengthAdjust="spacingAndGlyphs">-1</text>
<text x="138.00" y="0.00" font-size="14.00">)</text>
</g>
<g transform="translate(758.2,282.7) rotate(-90)">
<text x="-0.80" y="0.00" font-size="14.60" textLength="83.2" lengthAdjust="spacingAndGlyphs">Compliance</text>
<text x="85.00" y="0.00" font-size="14.60" font-style="italic">J</text>
<text x="92.70" y="6.30" font-size="9.20" textLength="16.6" lengthAdjust="spacingAndGlyphs">med</text>
<text x="114.20" y="0.00" font-size="14.60" textLength="21.4" lengthAdjust="spacingAndGlyphs">(Pa</text>
<text x="136.00" y="-5.20" font-size="8.20" textLength="8.2" lengthAdjust="spacingAndGlyphs">-1</text>
<text x="143.60" y="0.00" font-size="14.60">)</text>
</g>
<rect x="490.00" y="85.40" width="210.00" height="248.60" fill="none" stroke="#0d0d0d" stroke-width="1.3"/>
<line x1="700.00" y1="308.70" x2="703.20" y2="308.70" stroke="#0d0d0d" stroke-width="1.10"/>
<text x="708.80" y="313.20" font-size="10.00" text-anchor="start" textLength="21.0" lengthAdjust="spacingAndGlyphs">0.00</text>
<line x1="700.00" y1="280.80" x2="703.20" y2="280.80" stroke="#0d0d0d" stroke-width="1.10"/>
<text x="708.80" y="285.10" font-size="10.00" text-anchor="start" textLength="21.0" lengthAdjust="spacingAndGlyphs">0.02</text>
<line x1="700.00" y1="252.90" x2="703.20" y2="252.90" stroke="#0d0d0d" stroke-width="1.10"/>
<text x="708.80" y="255.80" font-size="10.00" text-anchor="start" textLength="21.0" lengthAdjust="spacingAndGlyphs">0.04</text>
<line x1="700.00" y1="225.00" x2="703.20" y2="225.00" stroke="#0d0d0d" stroke-width="1.10"/>
<text x="708.80" y="228.50" font-size="10.00" text-anchor="start" textLength="21.0" lengthAdjust="spacingAndGlyphs">0.06</text>
<line x1="700.00" y1="197.10" x2="703.20" y2="197.10" stroke="#0d0d0d" stroke-width="1.10"/>
<text x="708.80" y="200.50" font-size="10.00" text-anchor="start" textLength="21.0" lengthAdjust="spacingAndGlyphs">0.08</text>
<line x1="700.00" y1="169.20" x2="703.20" y2="169.20" stroke="#0d0d0d" stroke-width="1.10"/>
<text x="708.80" y="172.50" font-size="10.00" text-anchor="start" textLength="21.0" lengthAdjust="spacingAndGlyphs">0.10</text>
<line x1="700.00" y1="141.30" x2="703.20" y2="141.30" stroke="#0d0d0d" stroke-width="1.10"/>
<text x="708.80" y="144.70" font-size="10.00" text-anchor="start" textLength="21.0" lengthAdjust="spacingAndGlyphs">0.12</text>
<line x1="700.00" y1="113.40" x2="703.20" y2="113.40" stroke="#0d0d0d" stroke-width="1.10"/>
<text x="708.80" y="117.80" font-size="10.00" text-anchor="start" textLength="21.0" lengthAdjust="spacingAndGlyphs">0.14</text>
<line x1="700.00" y1="85.50" x2="703.20" y2="85.50" stroke="#0d0d0d" stroke-width="1.10"/>
<text x="708.80" y="89.20" font-size="10.00" text-anchor="start" textLength="21.0" lengthAdjust="spacingAndGlyphs">0.16</text>
<path d="M546.9 103.8V99.3H642.4V103.8" fill="none" stroke="#0d0d0d" stroke-width="1.2"/>
<text x="582.5 590.9 599.4" y="100.6" font-size="14.6" style="font-family:'Liberation Serif',serif;stroke-width:0.25px">***</text>
<line x1="546.90" y1="258.60" x2="546.90" y2="293.30" stroke="#0d0d0d" stroke-width="1.35"/>
<line x1="542.00" y1="258.60" x2="551.80" y2="258.60" stroke="#0d0d0d" stroke-width="1.20"/>
<line x1="542.00" y1="293.30" x2="551.80" y2="293.30" stroke="#0d0d0d" stroke-width="1.20"/>
 <rect x="517.8" y="269.0" width="58.5" height="17.7" fill="#171717"/>
<line x1="517.80" y1="277.00" x2="576.30" y2="277.00" stroke="#000" stroke-width="1.00"/>
<circle cx="547.2" cy="239.7" r="2.7" fill="#171717"/>
<circle cx="547.2" cy="241.2" r="2.7" fill="#171717"/>
<circle cx="547.2" cy="242.7" r="2.7" fill="#171717"/>
<circle cx="547.2" cy="244.2" r="2.7" fill="#171717"/>
<circle cx="547.2" cy="245.7" r="2.7" fill="#171717"/>
<circle cx="547.2" cy="247.2" r="2.7" fill="#171717"/>
<circle cx="547.2" cy="248.7" r="2.7" fill="#171717"/>
<circle cx="547.2" cy="250.2" r="2.7" fill="#171717"/>
<circle cx="547.2" cy="251.7" r="2.7" fill="#171717"/>
<circle cx="547.2" cy="253.2" r="2.7" fill="#171717"/>
<circle cx="547.2" cy="254.7" r="2.7" fill="#171717"/>
<circle cx="547.2" cy="256.2" r="2.7" fill="#171717"/>
<circle cx="547.2" cy="257.7" r="2.7" fill="#171717"/>
<circle cx="547.2" cy="291.5" r="2.7" fill="#171717"/>
<circle cx="547.2" cy="293.0" r="2.7" fill="#171717"/>
<circle cx="547.2" cy="294.5" r="2.7" fill="#171717"/>
<circle cx="547.2" cy="296.0" r="2.7" fill="#171717"/>
<circle cx="547.2" cy="297.5" r="2.7" fill="#171717"/>
<circle cx="547.2" cy="299.0" r="2.7" fill="#171717"/>
<circle cx="547.2" cy="300.5" r="2.7" fill="#171717"/>
<circle cx="547.2" cy="302.0" r="2.7" fill="#171717"/>
<circle cx="547.2" cy="303.5" r="2.7" fill="#171717"/>
<line x1="642.50" y1="189.90" x2="642.50" y2="259.10" stroke="#0d0d0d" stroke-width="1.35"/>
<line x1="637.70" y1="189.90" x2="647.30" y2="189.90" stroke="#0d0d0d" stroke-width="1.20"/>
<line x1="637.70" y1="259.10" x2="647.30" y2="259.10" stroke="#0d0d0d" stroke-width="1.20"/>
<rect x="614.2" y="209.4" width="56.7" height="31.4" fill="#fff" stroke="#0d0d0d" stroke-width="1.2"/>
<line x1="614.20" y1="229.80" x2="670.90" y2="229.80" stroke="#0d0d0d" stroke-width="1.20"/>
<circle cx="642.5" cy="112.0" r="2.7" fill="#171717"/>
<circle cx="642.5" cy="114.0" r="2.7" fill="#171717"/>
<circle cx="642.5" cy="156.5" r="2.7" fill="#171717"/>
<circle cx="642.5" cy="160.4" r="2.7" fill="#171717"/>
<circle cx="642.5" cy="166.7" r="2.7" fill="#171717"/>
<circle cx="642.5" cy="176.5" r="2.7" fill="#171717"/>
<circle cx="642.5" cy="182.5" r="2.7" fill="#171717"/>
<circle cx="642.5" cy="186.4" r="2.7" fill="#171717"/>
<circle cx="642.5" cy="188.5" r="2.7" fill="#171717"/>
<circle cx="642.5" cy="261.0" r="2.7" fill="#171717"/>
<circle cx="642.5" cy="262.6" r="2.7" fill="#171717"/>
<circle cx="642.5" cy="264.2" r="2.7" fill="#171717"/>
<circle cx="642.5" cy="265.8" r="2.7" fill="#171717"/>
<circle cx="642.5" cy="267.4" r="2.7" fill="#171717"/>
<circle cx="642.5" cy="269.0" r="2.7" fill="#171717"/>
<circle cx="642.5" cy="270.6" r="2.7" fill="#171717"/>
<circle cx="642.5" cy="272.2" r="2.7" fill="#171717"/>
<circle cx="642.5" cy="273.8" r="2.7" fill="#171717"/>
<circle cx="642.5" cy="275.4" r="2.7" fill="#171717"/>
<circle cx="642.5" cy="283.3" r="2.7" fill="#171717"/>
</svg></body></html>
